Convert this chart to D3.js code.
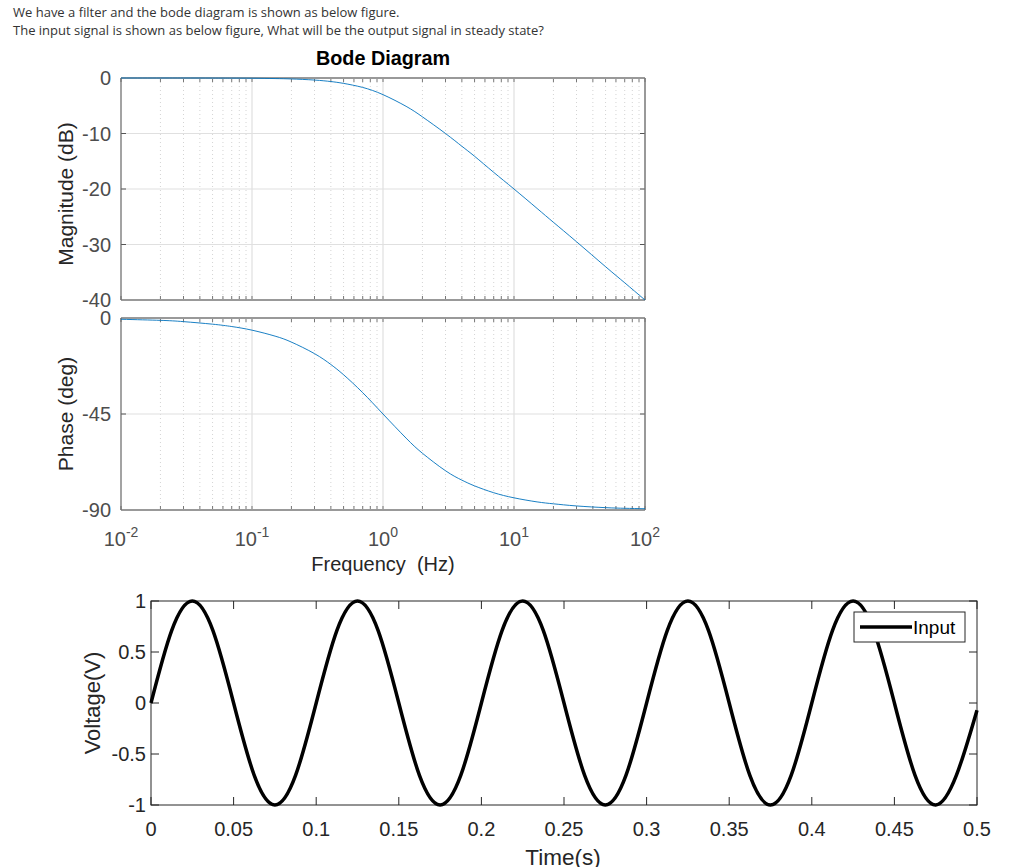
<!DOCTYPE html>
<head>
<meta charset="utf-8">
<style>
body { margin: 0; background: #fff; }
.question { font: 13px "Open Sans", sans-serif; fill: #333; }
.tick-label { font: 20px "Liberation Sans", Arial, sans-serif; fill: #4d4d4d; }
.axis-title { font: 20px "Liberation Sans", Arial, sans-serif; fill: #262626; }
.time-label { font: 20px "Liberation Sans", Arial, sans-serif; fill: #262626; }
</style>
</head>
<body>
<svg class="chart"></svg>
<script src="https://d3js.org/d3.v7.min.js"></script>
<script>

/* global d3 */

// values
const freqHz = [0.01, 0.02, 0.03, 0.05, 0.07, 0.1, 0.15, 0.2, 0.3, 0.4, 0.5, 0.7, 1, 1.5, 2, 3, 4, 5, 7, 10, 15, 20, 30, 50, 70, 100]
const magnitudeDb = [0, 0, 0, -0.01, -0.02, -0.04, -0.1, -0.17, -0.37, -0.64, -0.97, -1.7, -3.0, -5.1, -7.0, -10.0, -12.3, -14.1, -17.0, -20.0, -23.5, -26.0, -29.5, -34.0, -36.9, -40.0]
const phaseDeg = [-0.6, -1.1, -1.7, -2.9, -4.0, -5.7, -8.5, -11.3, -16.7, -21.8, -26.6, -35.0, -45, -56.3, -63.4, -71.6, -76.0, -78.7, -81.9, -84.3, -86.2, -87.1, -88.1, -88.9, -89.2, -89.4]

const timeS = [0, 0.0125, 0.025, 0.0375, 0.05, 0.0625, 0.075, 0.0875,
  0.1, 0.1125, 0.125, 0.1375, 0.15, 0.1625, 0.175, 0.1875,
  0.2, 0.2125, 0.225, 0.2375, 0.25, 0.2625, 0.275, 0.2875,
  0.3, 0.3125, 0.325, 0.3375, 0.35, 0.3625, 0.375, 0.3875,
  0.4, 0.4125, 0.425, 0.4375, 0.45, 0.4625, 0.475, 0.4875, 0.5]
const inputV = [0, 0.71, 1, 0.71, 0, -0.71, -1, -0.71,
  0, 0.71, 1, 0.71, 0, -0.71, -1, -0.71,
  0, 0.71, 1, 0.71, 0, -0.71, -1, -0.71,
  0, 0.71, 1, 0.71, 0, -0.71, -1, -0.71,
  0, 0.71, 1, 0.71, 0, -0.71, -1, -0.71, -0.07]

const decadeTicks = [0.01, 0.1, 1, 10, 100]
const decadeExp = ['-2', '-1', '0', '1', '2']
const magTicks = [0, -10, -20, -30, -40]
const phaseTicks = [0, -45, -90]
const timeTicks = [0, 0.05, 0.1, 0.15, 0.2, 0.25, 0.3, 0.35, 0.4, 0.45, 0.5]
const timeTickLabels = ['0', '0.05', '0.1', '0.15', '0.2', '0.25', '0.3', '0.35', '0.4', '0.45', '0.5']
const voltTicks = [1, 0.5, 0, -0.5, -1]
const voltTickLabels = ['1', '0.5', '0', '-0.5', '-1']

const questionLines = [
  'We have a filter and the bode diagram is shown as below figure.',
  'The input signal is shown as below figure, What will be the output signal in steady state?'
]

const width = 1009
const height = 867

const chart = d3.select('svg')
  .attr('width', width)
  .attr('height', height)

chart.selectAll('text.question')
  .data(questionLines)
  .enter()
  .append('text')
    .attr('class', 'question')
    .attr('x', 13)
    .attr('y', (d, i) => 17 + i * 18)
    .text(d => d)

// ---------- Bode diagram ----------
const bodeLeft = 121
const bodeRight = 645
const magBox = {top: 78, bottom: 300}
const phaseBox = {top: 318, bottom: 510}

const freqScale = d3.scaleLog().domain([0.01, 100]).range([bodeLeft, bodeRight])
const magScale = d3.scaleLinear().domain([-40, 0]).range([magBox.bottom, magBox.top])
const phaseScale = d3.scaleLinear().domain([-90, 0]).range([phaseBox.bottom, phaseBox.top])

const minorFreqs = []
decadeTicks.slice(0, 4).forEach(dec => {
  for (let m = 2; m <= 9; m++) minorFreqs.push(dec * m)
})

chart.append('defs').call(defs => {
  defs.append('clipPath').attr('id', 'clip-mag')
    .append('rect').attr('x', bodeLeft).attr('y', magBox.top - 1)
    .attr('width', bodeRight - bodeLeft + 1).attr('height', magBox.bottom - magBox.top + 2)
  defs.append('clipPath').attr('id', 'clip-phase')
    .append('rect').attr('x', bodeLeft).attr('y', phaseBox.top - 1)
    .attr('width', bodeRight - bodeLeft + 1).attr('height', phaseBox.bottom - phaseBox.top + 2)
})

function bodePanel(box, yScale, yTicks, values, clipId) {
  const g = chart.append('g')

  g.append('rect')
    .attr('x', bodeLeft).attr('y', box.top)
    .attr('width', bodeRight - bodeLeft).attr('height', box.bottom - box.top)
    .style('fill', '#fff')

  // minor grid
  g.selectAll('line.minor')
    .data(minorFreqs)
    .enter()
    .append('line')
      .attr('x1', d => freqScale(d)).attr('x2', d => freqScale(d))
      .attr('y1', box.top).attr('y2', box.bottom)
      .style('stroke', '#d4d4d4')
      .style('stroke-width', 1)
      .style('stroke-dasharray', '1,3')

  // major grid
  g.selectAll('line.major')
    .data(decadeTicks.slice(1, 4))
    .enter()
    .append('line')
      .attr('x1', d => freqScale(d)).attr('x2', d => freqScale(d))
      .attr('y1', box.top).attr('y2', box.bottom)
      .style('stroke', '#e0e0e0')
      .style('stroke-width', 1.2)

  g.selectAll('line.hgrid')
    .data(yTicks)
    .enter()
    .append('line')
      .attr('x1', bodeLeft).attr('x2', bodeRight)
      .attr('y1', d => yScale(d)).attr('y2', d => yScale(d))
      .style('stroke', '#e0e0e0')
      .style('stroke-width', 1.2)

  // ticks inside, bottom and top
  const allTicks = minorFreqs.concat(decadeTicks)
  g.selectAll('line.tb')
    .data(allTicks)
    .enter()
    .append('line')
      .attr('x1', d => freqScale(d)).attr('x2', d => freqScale(d))
      .attr('y1', box.bottom).attr('y2', box.bottom - 4)
      .style('stroke', '#777')
  g.selectAll('line.tt')
    .data(allTicks)
    .enter()
    .append('line')
      .attr('x1', d => freqScale(d)).attr('x2', d => freqScale(d))
      .attr('y1', box.top).attr('y2', box.top + 4)
      .style('stroke', '#777')
  g.selectAll('line.tl')
    .data(yTicks)
    .enter()
    .append('line')
      .attr('x1', bodeLeft).attr('x2', bodeLeft + 5)
      .attr('y1', d => yScale(d)).attr('y2', d => yScale(d))
      .style('stroke', '#555')
  g.selectAll('line.tr')
    .data(yTicks)
    .enter()
    .append('line')
      .attr('x1', bodeRight).attr('x2', bodeRight - 5)
      .attr('y1', d => yScale(d)).attr('y2', d => yScale(d))
      .style('stroke', '#555')

  // frame
  g.append('line').attr('x1', bodeLeft).attr('x2', bodeRight)
    .attr('y1', box.top).attr('y2', box.top)
    .style('stroke', '#999').style('stroke-width', 2)
  g.append('line').attr('x1', bodeLeft).attr('x2', bodeRight)
    .attr('y1', box.bottom).attr('y2', box.bottom)
    .style('stroke', '#999').style('stroke-width', 2)
  g.append('line').attr('x1', bodeLeft).attr('x2', bodeLeft)
    .attr('y1', box.top).attr('y2', box.bottom)
    .style('stroke', '#666').style('stroke-width', 1.2)
  g.append('line').attr('x1', bodeRight).attr('x2', bodeRight)
    .attr('y1', box.top).attr('y2', box.bottom)
    .style('stroke', '#777').style('stroke-width', 1.5)

  // tick labels
  g.selectAll('text.yt')
    .data(yTicks)
    .enter()
    .append('text')
      .attr('class', 'tick-label')
      .attr('x', bodeLeft - 10)
      .attr('y', d => yScale(d) + 7)
      .style('text-anchor', 'end')
      .text(d => d)

  // response
  const line = d3.line()
    .x(d => freqScale(d[0]))
    .y(d => yScale(d[1]))
    .curve(d3.curveNatural)
  g.append('path')
    .datum(freqHz.map((f, i) => [f, values[i]]))
    .attr('d', line)
    .attr('clip-path', `url(#${clipId})`)
    .style('fill', 'none')
    .style('stroke', '#0072BD')
    .style('stroke-width', 0.9)
}

bodePanel(magBox, magScale, magTicks, magnitudeDb, 'clip-mag')
bodePanel(phaseBox, phaseScale, phaseTicks, phaseDeg, 'clip-phase')

// frequency tick labels with superscript exponent
const freqLabels = chart.append('g')
  .selectAll('text')
  .data(decadeTicks)
  .enter()
  .append('text')
    .attr('class', 'tick-label')
    .attr('x', d => freqScale(d))
    .attr('y', 546)
    .style('text-anchor', 'middle')
freqLabels.append('tspan').text('10')
freqLabels.append('tspan')
  .attr('dy', -9)
  .style('font-size', '14px')
  .text((d, i) => decadeExp[i])

chart.append('text')
  .attr('x', (bodeLeft + bodeRight) / 2)
  .attr('y', 65)
  .style('text-anchor', 'middle')
  .style('font', 'bold 19.8px "Liberation Sans", Arial, sans-serif')
  .style('fill', '#000')
  .text('Bode Diagram')

chart.append('text')
  .attr('class', 'axis-title')
  .attr('x', (bodeLeft + bodeRight) / 2)
  .attr('y', 571)
  .style('text-anchor', 'middle')
  .attr('xml:space', 'preserve')
  .text('Frequency  (Hz)')

chart.append('text')
  .attr('class', 'axis-title')
  .attr('transform', `translate(73, ${(magBox.top + magBox.bottom) / 2 + 5}) rotate(-90)`)
  .style('text-anchor', 'middle')
  .style('font-size', '21px')
  .text('Magnitude (dB)')

chart.append('text')
  .attr('class', 'axis-title')
  .attr('transform', `translate(73, ${(phaseBox.top + phaseBox.bottom) / 2}) rotate(-90)`)
  .style('text-anchor', 'middle')
  .style('font-size', '21px')
  .text('Phase (deg)')

// ---------- time plot ----------
const timeBox = {left: 151, right: 977, top: 601, bottom: 805}
const timeScale = d3.scaleLinear().domain([0, 0.5]).range([timeBox.left, timeBox.right])
const voltScale = d3.scaleLinear().domain([-1, 1]).range([timeBox.bottom, timeBox.top])

const tg = chart.append('g')

tg.append('rect')
  .attr('x', timeBox.left).attr('y', timeBox.top)
  .attr('width', timeBox.right - timeBox.left).attr('height', timeBox.bottom - timeBox.top)
  .style('fill', 'none')
  .style('stroke', '#262626')
  .style('stroke-width', 1)

tg.selectAll('line.tb')
  .data(timeTicks)
  .enter()
  .append('line')
    .attr('x1', d => timeScale(d)).attr('x2', d => timeScale(d))
    .attr('y1', timeBox.bottom).attr('y2', timeBox.bottom - 8)
    .style('stroke', '#262626')
tg.selectAll('line.tt')
  .data(timeTicks)
  .enter()
  .append('line')
    .attr('x1', d => timeScale(d)).attr('x2', d => timeScale(d))
    .attr('y1', timeBox.top).attr('y2', timeBox.top + 8)
    .style('stroke', '#262626')
tg.selectAll('line.tl')
  .data(voltTicks)
  .enter()
  .append('line')
    .attr('x1', timeBox.left).attr('x2', timeBox.left + 8)
    .attr('y1', d => voltScale(d)).attr('y2', d => voltScale(d))
    .style('stroke', '#262626')
tg.selectAll('line.tr')
  .data(voltTicks)
  .enter()
  .append('line')
    .attr('x1', timeBox.right).attr('x2', timeBox.right - 8)
    .attr('y1', d => voltScale(d)).attr('y2', d => voltScale(d))
    .style('stroke', '#262626')

tg.selectAll('text.xt')
  .data(timeTicks)
  .enter()
  .append('text')
    .attr('class', 'time-label')
    .attr('x', d => timeScale(d))
    .attr('y', 836)
    .style('text-anchor', 'middle')
    .text((d, i) => timeTickLabels[i])

tg.selectAll('text.yt')
  .data(voltTicks)
  .enter()
  .append('text')
    .attr('class', 'time-label')
    .attr('x', timeBox.left - 5)
    .attr('y', d => voltScale(d) + 7)
    .style('text-anchor', 'end')
    .text((d, i) => voltTickLabels[i])

const inputLine = d3.line()
  .x(d => timeScale(d[0]))
  .y(d => voltScale(d[1]))
  .curve(d3.curveNatural)

tg.append('path')
  .datum(timeS.map((t, i) => [t, inputV[i]]))
  .attr('d', inputLine)
  .style('fill', 'none')
  .style('stroke', '#000')
  .style('stroke-width', 3.5)
  .style('stroke-linejoin', 'round')

chart.append('text')
  .attr('class', 'axis-title')
  .attr('x', (timeBox.left + timeBox.right) / 2 - 1)
  .attr('y', 865)
  .style('text-anchor', 'middle')
  .style('font-size', '22.5px')
  .text('Time(s)')

chart.append('text')
  .attr('class', 'axis-title')
  .attr('transform', `translate(100, ${(timeBox.top + timeBox.bottom) / 2}) rotate(-90)`)
  .style('text-anchor', 'middle')
  .style('font-size', '22px')
  .text('Voltage(V)')

// legend
const legend = chart.append('g').attr('transform', 'translate(854, 612)')
legend.append('rect')
  .attr('width', 111).attr('height', 30)
  .style('fill', '#fff')
  .style('stroke', '#262626')
  .style('stroke-width', 1)
legend.append('line')
  .attr('x1', 6).attr('x2', 58)
  .attr('y1', 15).attr('y2', 15)
  .style('stroke', '#000')
  .style('stroke-width', 3.5)
legend.append('text')
  .attr('x', 59)
  .attr('y', 22)
  .style('font', '19px "Liberation Sans", Arial, sans-serif')
  .style('fill', '#000')
  .text('Input')

</script>
</body>
